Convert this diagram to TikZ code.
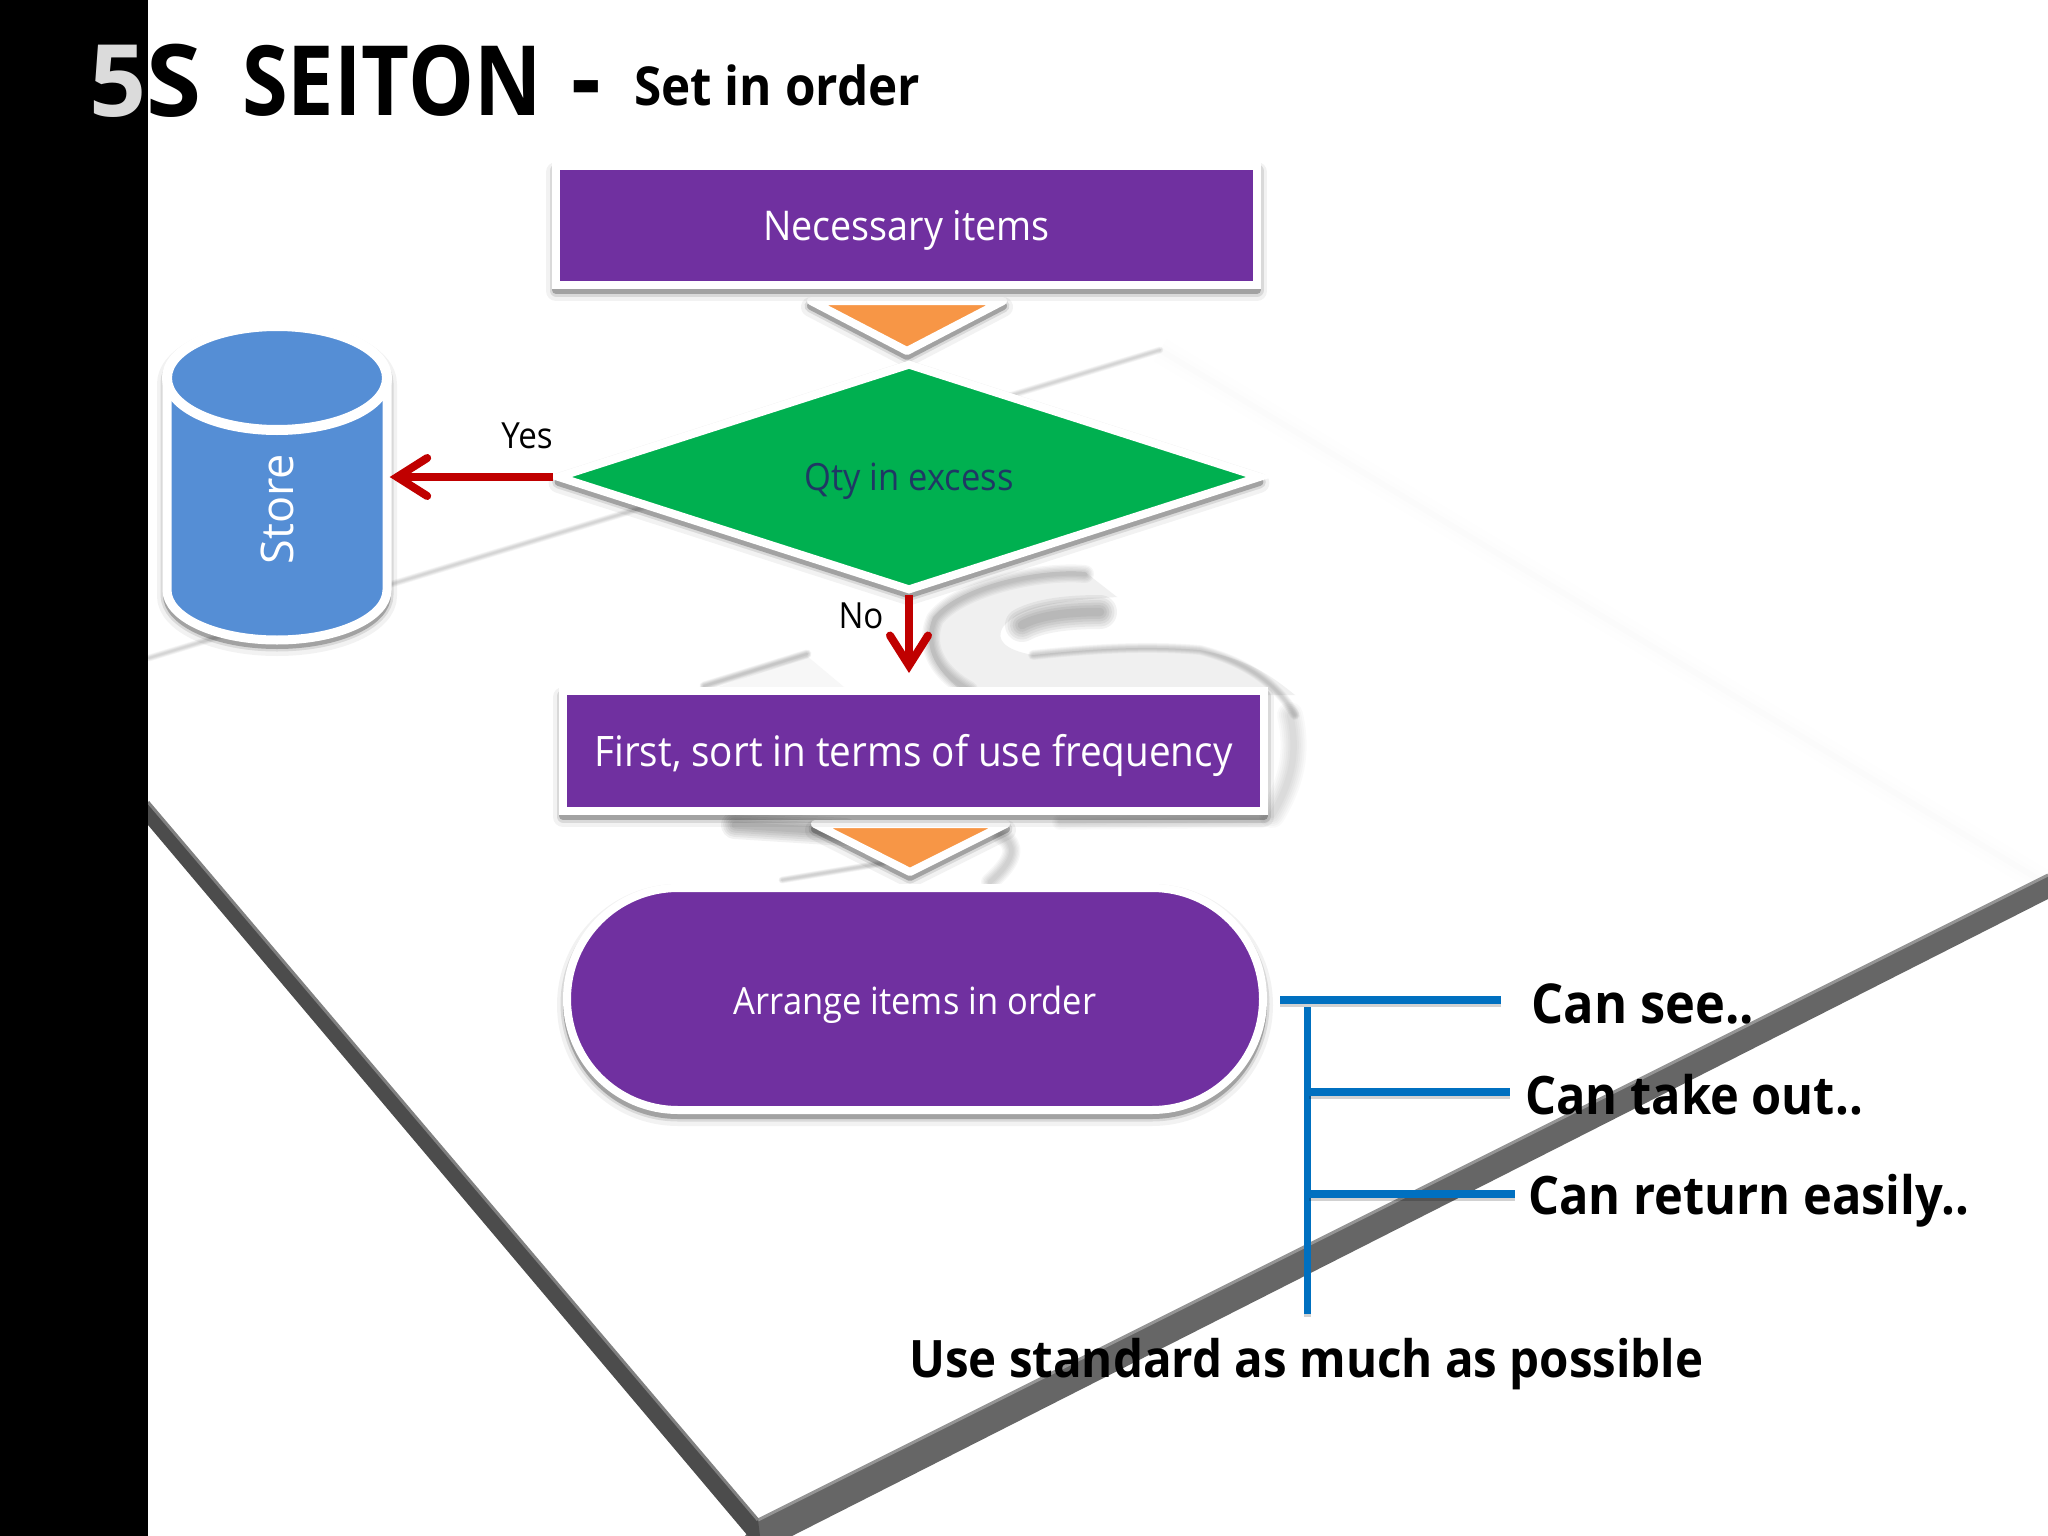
\documentclass[tikz,border=0pt]{standalone}
\usepackage{fontspec}
\usetikzlibrary{arrows.meta,shapes.geometric,shapes.misc}
\setmainfont{Open Sans}
\newfontfamily\lab[FakeStretch=0.92]{Open Sans}
\newfontfamily\tit[FakeStretch=0.855]{Open Sans}
\newcommand\fsz[1]{\fontsize{#1}{#1}\selectfont}
\definecolor{bpurple}{HTML}{7030A0}
\definecolor{borange}{HTML}{F79646}
\definecolor{bgreen}{HTML}{00B050}
\definecolor{bblue}{HTML}{558ED5}
\definecolor{bred}{HTML}{C00000}
\definecolor{lblue}{HTML}{0070C0}
\definecolor{qtext}{HTML}{1F3864}
\newcommand\softline[3][10]{\foreach \f in {1,.85,.7,.55,.4,.25}{\draw[line width=#1*\f pt,draw opacity=#2,black,line cap=round,line join=round] #3;}}
\tikzset{
 softshadow/.style={
  preaction={draw=black,draw opacity=.05,line width=20pt,line join=round,transform canvas={yshift=-6pt}},
  preaction={draw=black,draw opacity=.10,line width=13pt,line join=round,transform canvas={yshift=-5pt}},
  preaction={draw=black,draw opacity=.25,line width=8pt,line join=round,transform canvas={yshift=-5pt}}},
 flowbox/.style={rectangle,draw=white,line width=8pt,fill=bpurple,inner sep=0pt,text=white,softshadow},
 wedge/.style={draw=white,line width=8pt,fill=borange,line join=round,softshadow},
 redarrow/.style={draw=bred,line width=8pt,-{Straight Barb[length=30pt,width=38pt,line cap=round,line width=8pt]}},
 blueline/.style={draw=lblue,line width=8pt,preaction={draw=black,draw opacity=.18,line width=7pt,transform canvas={yshift=-3pt}}},
 bigtext/.style={font=\lab\bfseries\fsz{53},text=black,inner sep=0pt,anchor=west},
 labeltext/.style={font=\lab\fsz{36},text=black,inner sep=0pt},
}
\begin{document}
\begin{tikzpicture}[x=1pt,y=-1pt]
\useasboundingbox (0,0) rectangle (2048,1536);
\fill[white] (0,0) rectangle (2048,1536);
% faint back edges of the plate
\softline[7]{.028}{(149,658) -- (1160,350)}
\foreach \w/\o in {26/.003,14/.004,6/.006}{\draw[line width=\w pt,draw opacity=\o,black] (1160,350) -- (2048,885);}
% blurred 5S watermark: body of the S
\fill[black!6] (1085,572) .. controls (1040,568) and (960,585) .. (933,617) .. controls (920,650) and (940,675) .. (967,695) -- (1295,695) .. controls (1270,675) and (1250,660) .. (1200,650) .. controls (1140,645) and (1080,650) .. (1033,655) .. controls (1005,650) and (995,640) .. (1003,627) .. controls (1020,605) and (1070,600) .. (1117,597) -- cycle;
\softline[18]{.035}{(1085,574) .. controls (1040,570) and (960,587) .. (935,619) .. controls (922,650) and (942,675) .. (969,690)}
\softline[10]{.03}{(1033,655) .. controls (1080,650) and (1140,645) .. (1200,650) .. controls (1240,660) and (1275,680) .. (1295,715)}
\softline[34]{.05}{(1022,625) .. controls (1040,615) and (1070,612) .. (1100,612)}
\softline[26]{.022}{(1290,715) .. controls (1298,750) and (1293,780) .. (1272,815)}
\softline[16]{.02}{(1060,822) -- (1262,820)}
% the 5
\fill[black!3] (704,692) -- (807,656) -- (850,692) -- cycle;
\softline[9]{.04}{(704,686) -- (807,654)}
\softline[28]{.05}{(735,825) -- (845,832)}
\softline[7]{.03}{(782,880) -- (884,863)}
\softline[18]{.03}{(1000,835) .. controls (1018,845) and (1015,860) .. (990,882)}
% plate front edges
\fill[black!60] (758,1520) -- (2048,875) -- (2048,899) -- (792,1536) -- (745,1536) -- cycle;
\draw[black!42,line width=3pt] (758,1520) -- (2048,875);
\fill[black!70] (148,802) -- (758,1520) -- (760,1536) -- (748,1536) -- (148,825) -- cycle;
\draw[black!50,line width=3pt] (148,802) -- (758,1520);
\fill[black] (0,0) rectangle (148,1536);
% title
\node[bigtext,font=\bfseries\fsz{100}] (five) at (89,81) {\textcolor{black!14}{5}S};
\node[bigtext,font=\tit\bfseries\fsz{97}] (seiton) at (242,81) {SEITON};
\node[bigtext,font=\lab\bfseries\fsz{100}] (dash) at (571,97) {-};
\node[bigtext,font=\lab\bfseries\fsz{53.7}] (setin) at (634,85) {Set in order};
% wedges
\path[wedge] (811,301) -- (1003,301) -- (907,351) -- cycle;
\path[wedge] (815,824) -- (1006,824) -- (910,872) -- cycle;
% flow nodes
\node[flowbox,minimum width=701pt,minimum height=119pt,font=\lab\fsz{41},text height=38pt,text depth=9pt] (need) at (906.5,225.5) {Necessary items};
\node[diamond,shape aspect=3.13,draw=white,line width=8pt,fill=bgreen,inner sep=0pt,minimum width=704pt,minimum height=228pt,softshadow,font=\lab\fsz{37.5},text=qtext,text height=36pt,text depth=9pt] (qty) at (909,477) {Qty in excess};
\node[flowbox,minimum width=701pt,minimum height=120pt,font=\lab\fsz{42},text height=40pt,text depth=10pt] (first) at (913.5,751) {First, sort in terms of use frequency};
\node[rounded rectangle,draw=white,line width=8pt,fill=bpurple,inner sep=0pt,minimum width=696pt,minimum height=222pt,text=white,softshadow,font=\lab\fsz{37.5},text height=39pt,text depth=9pt] (arrange) at (915,999) {Arrange items in order};
% store drum
\path[draw=white,line width=9pt,fill=bblue,softshadow] (167,378) -- (167,590) arc[start angle=180,end angle=360,x radius=110pt,y radius=50pt] -- (387,378) arc[start angle=0,end angle=180,x radius=110pt,y radius=52pt] -- cycle;
\path[draw=white,line width=10pt,fill=bblue] (277,378) ellipse[x radius=110pt,y radius=52pt];
\node[inner sep=0pt,minimum width=225pt,minimum height=300pt] (store) at (277,477) {};
\node[rotate=90,text=white,font=\fsz{45},inner sep=0pt] (storetext) at (277,509) {Store};
% connectors
\draw[redarrow] (qty.west) -- (store.east);
\coordinate (nohead) at (909,673);
\draw[redarrow] (qty.south) -- (nohead);
\node[labeltext] (yes) at (527,436) {Yes};
\node[labeltext] (no) at (861,616) {No};
% blue bracket
\coordinate (b0) at (1280,1000);
\coordinate (b1) at (1501,1000);
\coordinate (v0) at (1307,1007);
\coordinate (v1) at (1307,1314);
\coordinate (b2a) at (1309,1092);
\coordinate (b2b) at (1510,1092);
\coordinate (b3a) at (1309,1194);
\coordinate (b3b) at (1515,1194);
\draw[blueline] (b0) -- (b1);
\draw[blueline,line width=7pt] (v0) -- (v1);
\draw[blueline] (b2a) -- (b2b);
\draw[blueline] (b3a) -- (b3b);
\node[bigtext,font=\lab\bfseries\fsz{55}] (see) at (1531,1004) {Can see..};
\node[bigtext] (take) at (1525,1095) {Can take out..};
\node[bigtext] (ret) at (1528,1201) {Can return easily..};
\node[bigtext,font=\lab\bfseries\fsz{51.6}] (std) at (909,1364) {Use standard as much as possible};
\end{tikzpicture}
\end{document}
